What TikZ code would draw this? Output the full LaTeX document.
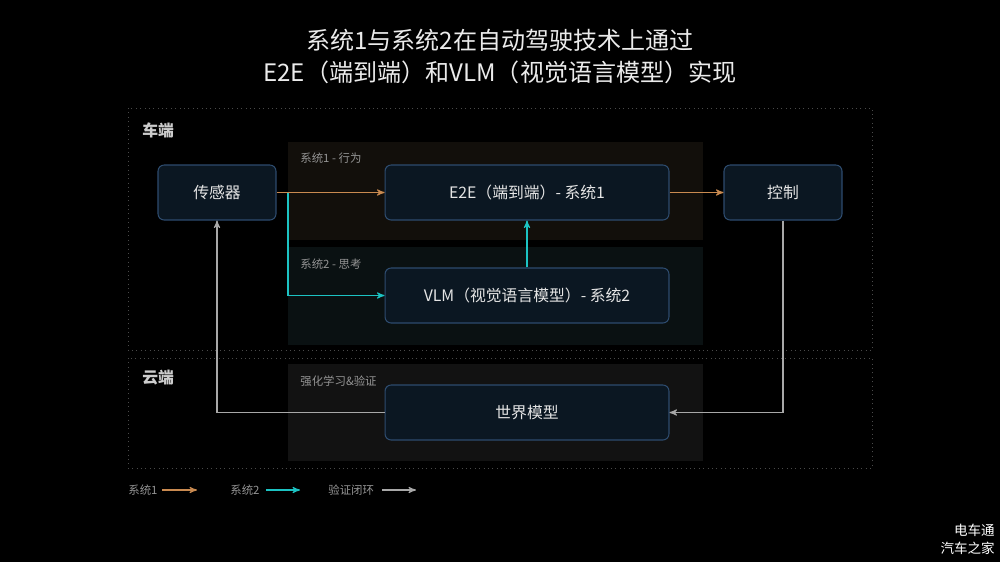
\documentclass[tikz,border=0pt]{standalone}
\usepackage{fontspec}
\setmainfont{Noto Sans CJK SC}
\usetikzlibrary{arrows}
\usetikzlibrary{positioning}
\definecolor{bgblack}{HTML}{000000}
\definecolor{boxfill}{HTML}{0B1722}
\definecolor{boxline}{HTML}{2D4B6E}
\definecolor{sysone}{HTML}{120F0B}
\definecolor{systwo}{HTML}{0A1112}
\definecolor{sysworld}{HTML}{121212}
\definecolor{orangeline}{HTML}{C98A50}
\definecolor{tealline}{HTML}{1CC3C3}
\definecolor{grayline}{HTML}{A8A8A8}
\definecolor{dotline}{HTML}{4A4A4A}
\newcommand{\bigtxt}{\fontsize{13.7}{17}\selectfont}
\newcommand{\boxtxt}{\fontsize{9}{11}\selectfont}
\newcommand{\smalltxt}{\fontsize{6.5}{8}\selectfont}
\newcommand{\marktxt}{\fontsize{7.7}{9}\selectfont}
\tikzset{
  block/.style={draw=boxline,fill=boxfill,rounded corners=3.5pt,line width=0.6pt,
    text=white!90!black,font=\boxtxt,minimum height=1.1cm},
  region/.style={draw=dotline,dotted,line width=0.5pt},
  tag/.style={right,inner sep=0pt,text=white!58!black,font=\smalltxt},
  zone/.style={right,inner sep=0pt,text=white!80!black,font=\boxtxt\bfseries},
  flow/.style={->,>=stealth',line width=0.6pt},
}
\begin{document}
\begin{tikzpicture}[x=0.02cm,y=-0.02cm]
\fill[bgblack] (0,0) rectangle (1000,562);
\useasboundingbox (0,0) rectangle (1000,562);
% title
\node[text=white!92!black,font=\bigtxt] (title1) at (500,40) {系统1与系统2在自动驾驶技术上通过};
\node[text=white!92!black,font=\bigtxt] (title2) at (500,72) {E2E（端到端）和VLM（视觉语言模型）实现};
% regions
\draw[region] (128,108) rectangle (872,350);
\draw[region] (128,358) rectangle (872,468);
\node[zone] (car) at (142,130) {车端};
\node[zone] (cloud) at (142,378) {云端};
% panels
\fill[sysone] (288,142) rectangle (703,240);
\fill[systwo] (288,247) rectangle (703,345);
\fill[sysworld] (288,364) rectangle (703,461);
\node[tag] (lab1) at (300,158) {系统1 - 行为};
\node[tag] (lab2) at (300,264) {系统2 - 思考};
\node[tag] (lab3) at (300,381) {强化学习\&验证};
% blocks
\node[block,minimum width=2.36cm] (sensor) at (217,192.5) {传感器};
\node[block,minimum width=5.68cm] (e2e) at (527,192.5) {E2E（端到端）- 系统1};
\node[block,minimum width=2.36cm] (ctrl) at (783,192.5) {控制};
\node[block,minimum width=5.68cm] (vlm) at (527,295.5) {VLM（视觉语言模型）- 系统2};
\node[block,minimum width=5.68cm] (world) at (527,412.5) {世界模型};
% connectors
\coordinate (split) at (288,192.5);
\draw[flow,orangeline] (sensor) -- (e2e);
\draw[flow,orangeline] (e2e) -- (ctrl);
\draw[flow,tealline] (split) |- (vlm);
\draw[flow,tealline] (vlm) -- (e2e);
\draw[flow,grayline] (ctrl) |- (world);
\draw[flow,grayline] (world) -| (sensor);
% legend
\node[tag] (leg1) at (128,490) {系统1};
\coordinate (l1a) at (162,490);
\coordinate (l1b) at (197,490);
\draw[flow,orangeline] (l1a) -- (l1b);
\node[tag] (leg2) at (230,490) {系统2};
\coordinate (l2a) at (266,490);
\coordinate (l2b) at (300,490);
\draw[flow,tealline] (l2a) -- (l2b);
\node[tag] (leg3) at (328,490) {验证闭环};
\coordinate (l3a) at (382,490);
\coordinate (l3b) at (416,490);
\draw[flow,grayline] (l3a) -- (l3b);
% watermark
\node[left,inner sep=0pt,text=white,font=\marktxt] (mark1) at (995,530) {电车通};
\node[left,inner sep=0pt,text=white,font=\marktxt] (mark2) at (995,548) {汽车之家};
\end{tikzpicture}
\end{document}
